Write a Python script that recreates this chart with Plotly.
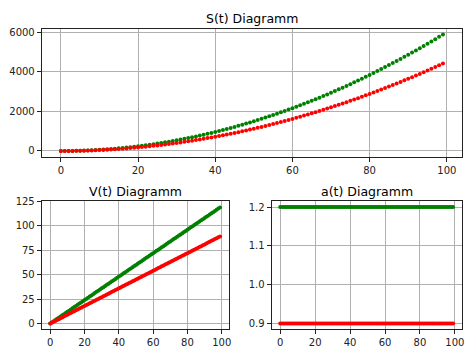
import plotly.graph_objects as go

t = [0, 1, 2, 3, 4, 5, 6, 7, 8, 9, 10, 11, 12, 13, 14, 15, 16, 17, 18, 19,
     20, 21, 22, 23, 24, 25, 26, 27, 28, 29, 30, 31, 32, 33, 34, 35, 36, 37, 38, 39,
     40, 41, 42, 43, 44, 45, 46, 47, 48, 49, 50, 51, 52, 53, 54, 55, 56, 57, 58, 59,
     60, 61, 62, 63, 64, 65, 66, 67, 68, 69, 70, 71, 72, 73, 74, 75, 76, 77, 78, 79,
     80, 81, 82, 83, 84, 85, 86, 87, 88, 89, 90, 91, 92, 93, 94, 95, 96, 97, 98, 99]

s_green = [0, 0.6, 2.4, 5.4, 9.6, 15, 21.6, 29.4, 38.4, 48.6, 60, 72.6, 86.4, 101.4, 117.6, 135, 153.6, 173.4, 194.4, 216.6,
           240, 264.6, 290.4, 317.4, 345.6, 375, 405.6, 437.4, 470.4, 504.6, 540, 576.6, 614.4, 653.4, 693.6, 735, 777.6, 821.4, 866.4, 912.6,
           960, 1008.6, 1058.4, 1109.4, 1161.6, 1215, 1269.6, 1325.4, 1382.4, 1440.6, 1500, 1560.6, 1622.4, 1685.4, 1749.6, 1815, 1881.6, 1949.4, 2018.4, 2088.6,
           2160, 2232.6, 2306.4, 2381.4, 2457.6, 2535, 2613.6, 2693.4, 2774.4, 2856.6, 2940, 3024.6, 3110.4, 3197.4, 3285.6, 3375, 3465.6, 3557.4, 3650.4, 3744.6,
           3840, 3936.6, 4034.4, 4133.4, 4233.6, 4335, 4437.6, 4541.4, 4646.4, 4752.6, 4860, 4968.6, 5078.4, 5189.4, 5301.6, 5415, 5529.6, 5645.4, 5762.4, 5880.6]

s_red = [0, 0.45, 1.8, 4.05, 7.2, 11.25, 16.2, 22.05, 28.8, 36.45, 45, 54.45, 64.8, 76.05, 88.2, 101.25, 115.2, 130.05, 145.8, 162.45,
         180, 198.45, 217.8, 238.05, 259.2, 281.25, 304.2, 328.05, 352.8, 378.45, 405, 432.45, 460.8, 490.05, 520.2, 551.25, 583.2, 616.05, 649.8, 684.45,
         720, 756.45, 793.8, 832.05, 871.2, 911.25, 952.2, 994.05, 1036.8, 1080.45, 1125, 1170.45, 1216.8, 1264.05, 1312.2, 1361.25, 1411.2, 1462.05, 1513.8, 1566.45,
         1620, 1674.45, 1729.8, 1786.05, 1843.2, 1901.25, 1960.2, 2020.05, 2080.8, 2142.45, 2205, 2268.45, 2332.8, 2398.05, 2464.2, 2531.25, 2599.2, 2668.05, 2737.8, 2808.45,
         2880, 2952.45, 3025.8, 3100.05, 3175.2, 3251.25, 3328.2, 3406.05, 3484.8, 3564.45, 3645, 3726.45, 3808.8, 3892.05, 3976.2, 4061.25, 4147.2, 4234.05, 4321.8, 4410.45]

v_green = [0, 1.2, 2.4, 3.6, 4.8, 6, 7.2, 8.4, 9.6, 10.8, 12, 13.2, 14.4, 15.6, 16.8, 18, 19.2, 20.4, 21.6, 22.8,
           24, 25.2, 26.4, 27.6, 28.8, 30, 31.2, 32.4, 33.6, 34.8, 36, 37.2, 38.4, 39.6, 40.8, 42, 43.2, 44.4, 45.6, 46.8,
           48, 49.2, 50.4, 51.6, 52.8, 54, 55.2, 56.4, 57.6, 58.8, 60, 61.2, 62.4, 63.6, 64.8, 66, 67.2, 68.4, 69.6, 70.8,
           72, 73.2, 74.4, 75.6, 76.8, 78, 79.2, 80.4, 81.6, 82.8, 84, 85.2, 86.4, 87.6, 88.8, 90, 91.2, 92.4, 93.6, 94.8,
           96, 97.2, 98.4, 99.6, 100.8, 102, 103.2, 104.4, 105.6, 106.8, 108, 109.2, 110.4, 111.6, 112.8, 114, 115.2, 116.4, 117.6, 118.8]

v_red = [0, 0.9, 1.8, 2.7, 3.6, 4.5, 5.4, 6.3, 7.2, 8.1, 9, 9.9, 10.8, 11.7, 12.6, 13.5, 14.4, 15.3, 16.2, 17.1,
         18, 18.9, 19.8, 20.7, 21.6, 22.5, 23.4, 24.3, 25.2, 26.1, 27, 27.9, 28.8, 29.7, 30.6, 31.5, 32.4, 33.3, 34.2, 35.1,
         36, 36.9, 37.8, 38.7, 39.6, 40.5, 41.4, 42.3, 43.2, 44.1, 45, 45.9, 46.8, 47.7, 48.6, 49.5, 50.4, 51.3, 52.2, 53.1,
         54, 54.9, 55.8, 56.7, 57.6, 58.5, 59.4, 60.3, 61.2, 62.1, 63, 63.9, 64.8, 65.7, 66.6, 67.5, 68.4, 69.3, 70.2, 71.1,
         72, 72.9, 73.8, 74.7, 75.6, 76.5, 77.4, 78.3, 79.2, 80.1, 81, 81.9, 82.8, 83.7, 84.6, 85.5, 86.4, 87.3, 88.2, 89.1]

a_green = [1.2, 1.2, 1.2, 1.2, 1.2, 1.2, 1.2, 1.2, 1.2, 1.2, 1.2, 1.2, 1.2, 1.2, 1.2, 1.2, 1.2, 1.2, 1.2, 1.2,
           1.2, 1.2, 1.2, 1.2, 1.2, 1.2, 1.2, 1.2, 1.2, 1.2, 1.2, 1.2, 1.2, 1.2, 1.2, 1.2, 1.2, 1.2, 1.2, 1.2,
           1.2, 1.2, 1.2, 1.2, 1.2, 1.2, 1.2, 1.2, 1.2, 1.2, 1.2, 1.2, 1.2, 1.2, 1.2, 1.2, 1.2, 1.2, 1.2, 1.2,
           1.2, 1.2, 1.2, 1.2, 1.2, 1.2, 1.2, 1.2, 1.2, 1.2, 1.2, 1.2, 1.2, 1.2, 1.2, 1.2, 1.2, 1.2, 1.2, 1.2,
           1.2, 1.2, 1.2, 1.2, 1.2, 1.2, 1.2, 1.2, 1.2, 1.2, 1.2, 1.2, 1.2, 1.2, 1.2, 1.2, 1.2, 1.2, 1.2, 1.2]

a_red = [0.9, 0.9, 0.9, 0.9, 0.9, 0.9, 0.9, 0.9, 0.9, 0.9, 0.9, 0.9, 0.9, 0.9, 0.9, 0.9, 0.9, 0.9, 0.9, 0.9,
         0.9, 0.9, 0.9, 0.9, 0.9, 0.9, 0.9, 0.9, 0.9, 0.9, 0.9, 0.9, 0.9, 0.9, 0.9, 0.9, 0.9, 0.9, 0.9, 0.9,
         0.9, 0.9, 0.9, 0.9, 0.9, 0.9, 0.9, 0.9, 0.9, 0.9, 0.9, 0.9, 0.9, 0.9, 0.9, 0.9, 0.9, 0.9, 0.9, 0.9,
         0.9, 0.9, 0.9, 0.9, 0.9, 0.9, 0.9, 0.9, 0.9, 0.9, 0.9, 0.9, 0.9, 0.9, 0.9, 0.9, 0.9, 0.9, 0.9, 0.9,
         0.9, 0.9, 0.9, 0.9, 0.9, 0.9, 0.9, 0.9, 0.9, 0.9, 0.9, 0.9, 0.9, 0.9, 0.9, 0.9, 0.9, 0.9, 0.9, 0.9]

titles = ["S(t) Diagramm", "V(t) Diagramm", "a(t) Diagramm"]
x_ticks = [0, 20, 40, 60, 80, 100]
s_ticks = [0, 2000, 4000, 6000]
v_ticks = [0, 25, 50, 75, 100, 125]
a_ticks = [0.9, 1.0, 1.1, 1.2]
a_ticktext = ["0.9", "1.0", "1.1", "1.2"]

GREEN = "#008000"
RED = "#ff0000"
W, H = 474, 353

fig = go.Figure()

def add(xa, ya, y, color):
    fig.add_trace(go.Scatter(x=t, y=y, mode="markers", xaxis=xa, yaxis=ya,
                             marker=dict(color=color, size=4, line=dict(width=0)),
                             showlegend=False, hoverinfo="skip"))

add("x", "y", s_green, GREEN)
add("x", "y", s_red, RED)
add("x2", "y2", v_green, GREEN)
add("x2", "y2", v_red, RED)
add("x3", "y3", a_green, GREEN)
add("x3", "y3", a_red, RED)

def px_x(a, b):
    return [a / W, b / W]

def px_y(top, bottom):
    return [(H - bottom) / H, (H - top) / H]

axis_common = dict(showline=True, mirror=True, linecolor="#222222", linewidth=1,
                   ticks="outside", ticklen=4, tickwidth=1, tickcolor="#222222",
                   showgrid=True, gridcolor="#b0b0b0", gridwidth=0.8, zeroline=False,
                   tickfont=dict(family="DejaVu Sans", size=10, color="#222222"))

fig.update_layout(
    width=W, height=H, margin=dict(l=0, r=0, t=0, b=0),
    paper_bgcolor="white", plot_bgcolor="white",
    xaxis=dict(domain=px_x(42, 465), range=[-4.95, 103.95], tickvals=x_ticks, anchor="y", **axis_common),
    yaxis=dict(domain=px_y(24, 154), range=[-294, 6174.6], tickvals=s_ticks, anchor="x", **axis_common),
    xaxis2=dict(domain=px_x(42, 230), range=[-4.95, 103.95], tickvals=x_ticks, anchor="y2", **axis_common),
    yaxis2=dict(domain=px_y(199, 329), range=[-5.94, 125.2], tickvals=v_ticks, anchor="x2", **axis_common),
    xaxis3=dict(domain=px_x(273.3, 464.7), range=[-4.95, 103.95], tickvals=x_ticks, anchor="y3", **axis_common),
    yaxis3=dict(domain=px_y(199, 329), range=[0.885, 1.215], tickvals=a_ticks, ticktext=a_ticktext, anchor="x3", **axis_common),
)

title_pos = [((42 + 465) / 2, 14), ((42 + 230) / 2, 189), ((273.3 + 464.7) / 2, 189)]
for txt, (cx, cy) in zip(titles, title_pos):
    fig.add_annotation(text=txt, x=cx / W, y=(H - cy) / H, xref="paper", yref="paper",
                       showarrow=False, xanchor="center", yanchor="middle",
                       font=dict(family="DejaVu Sans", size=12.5, color="#000000"))

fig.write_html("out.html")
